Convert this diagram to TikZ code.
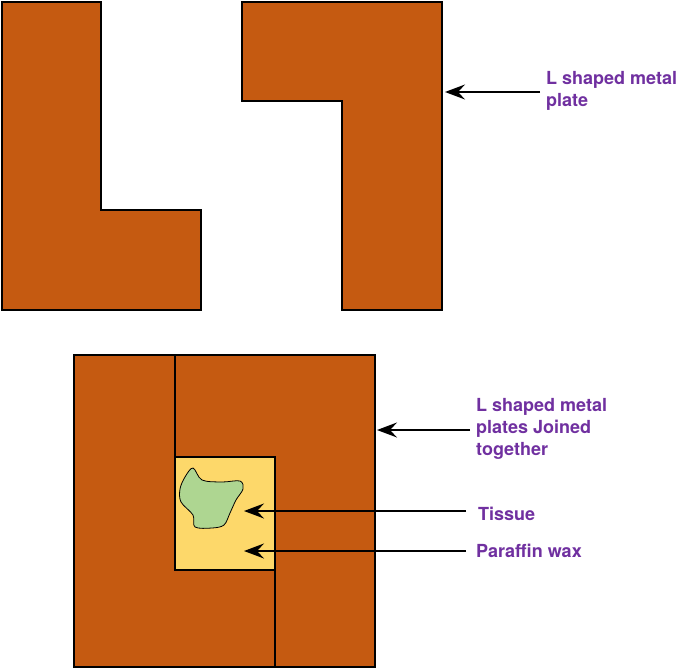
\documentclass[tikz,border=0pt]{standalone}
\usepackage{fontspec}
\setmainfont{TeX Gyre Heros}
\usetikzlibrary{arrows.meta}
\definecolor{plate}{RGB}{197,90,17}
\definecolor{wax}{RGB}{253,216,106}
\definecolor{tissue}{RGB}{174,214,145}
\definecolor{lbl}{RGB}{112,48,160}
\tikzset{
  platefill/.style={fill=plate,draw=black,line width=2pt,line join=miter},
  edge/.style={draw=black,line width=2pt},
  arr/.style={draw=black,line width=1.8pt,-{Stealth[length=20pt,width=15pt,inset=7pt]}},
  label/.style={text=lbl,font=\bfseries\fontsize{18}{22}\selectfont,align=left,anchor=west,inner sep=0pt}
}
\begin{document}
\begin{tikzpicture}[x=1pt,y=-1pt]
\useasboundingbox (0,0) rectangle (685,669);
% top left L
\path[platefill] (2,2) -- (101,2) -- (101,210) -- (201,210) -- (201,310) -- (2,310) -- cycle;
% top right L
\path[platefill] (242,2) -- (442,2) -- (442,310) -- (342,310) -- (342,101) -- (242,101) -- cycle;
% joined plates
\path[platefill] (74,355) rectangle (375,667);
\draw[edge] (175,355) -- (175,457);
\draw[edge] (275,570) -- (275,667);
\path[fill=wax,draw=black,line width=2pt] (175,457) rectangle (275,570);
% tissue
\path[fill=tissue,draw=black,line width=0.8pt]
  plot[smooth cycle,tension=0.55] coordinates {(193,468) (202,480) (222,482) (240,481) (243,489) (236,500) (230,513) (224,525) (212,528) (195,527) (193,515) (181,502) (180,489) (185,477)};
% labels
\node[label] (l1) at (546,91) {L shaped metal\\plate};
\node[label] (l2) at (476,429) {L shaped metal\\plates Joined\\together};
\node[label] (l3) at (478,514) {Tissue};
\node[label] (l4) at (476,551) {Paraffin wax};
\coordinate (t1) at (445,92);
\coordinate (t2) at (377,430);
\coordinate (t3) at (244,511);
\coordinate (t4) at (244,551);
\draw[arr] (l1.west) ++(-6,1) -- (t1);
\draw[arr] (l2.west) ++(-6,1) -- (t2);
\draw[arr] (l3.west) ++(-12,-3) -- (t3);
\draw[arr] (l4.west) ++(-10,0) -- (t4);
\end{tikzpicture}
\end{document}
